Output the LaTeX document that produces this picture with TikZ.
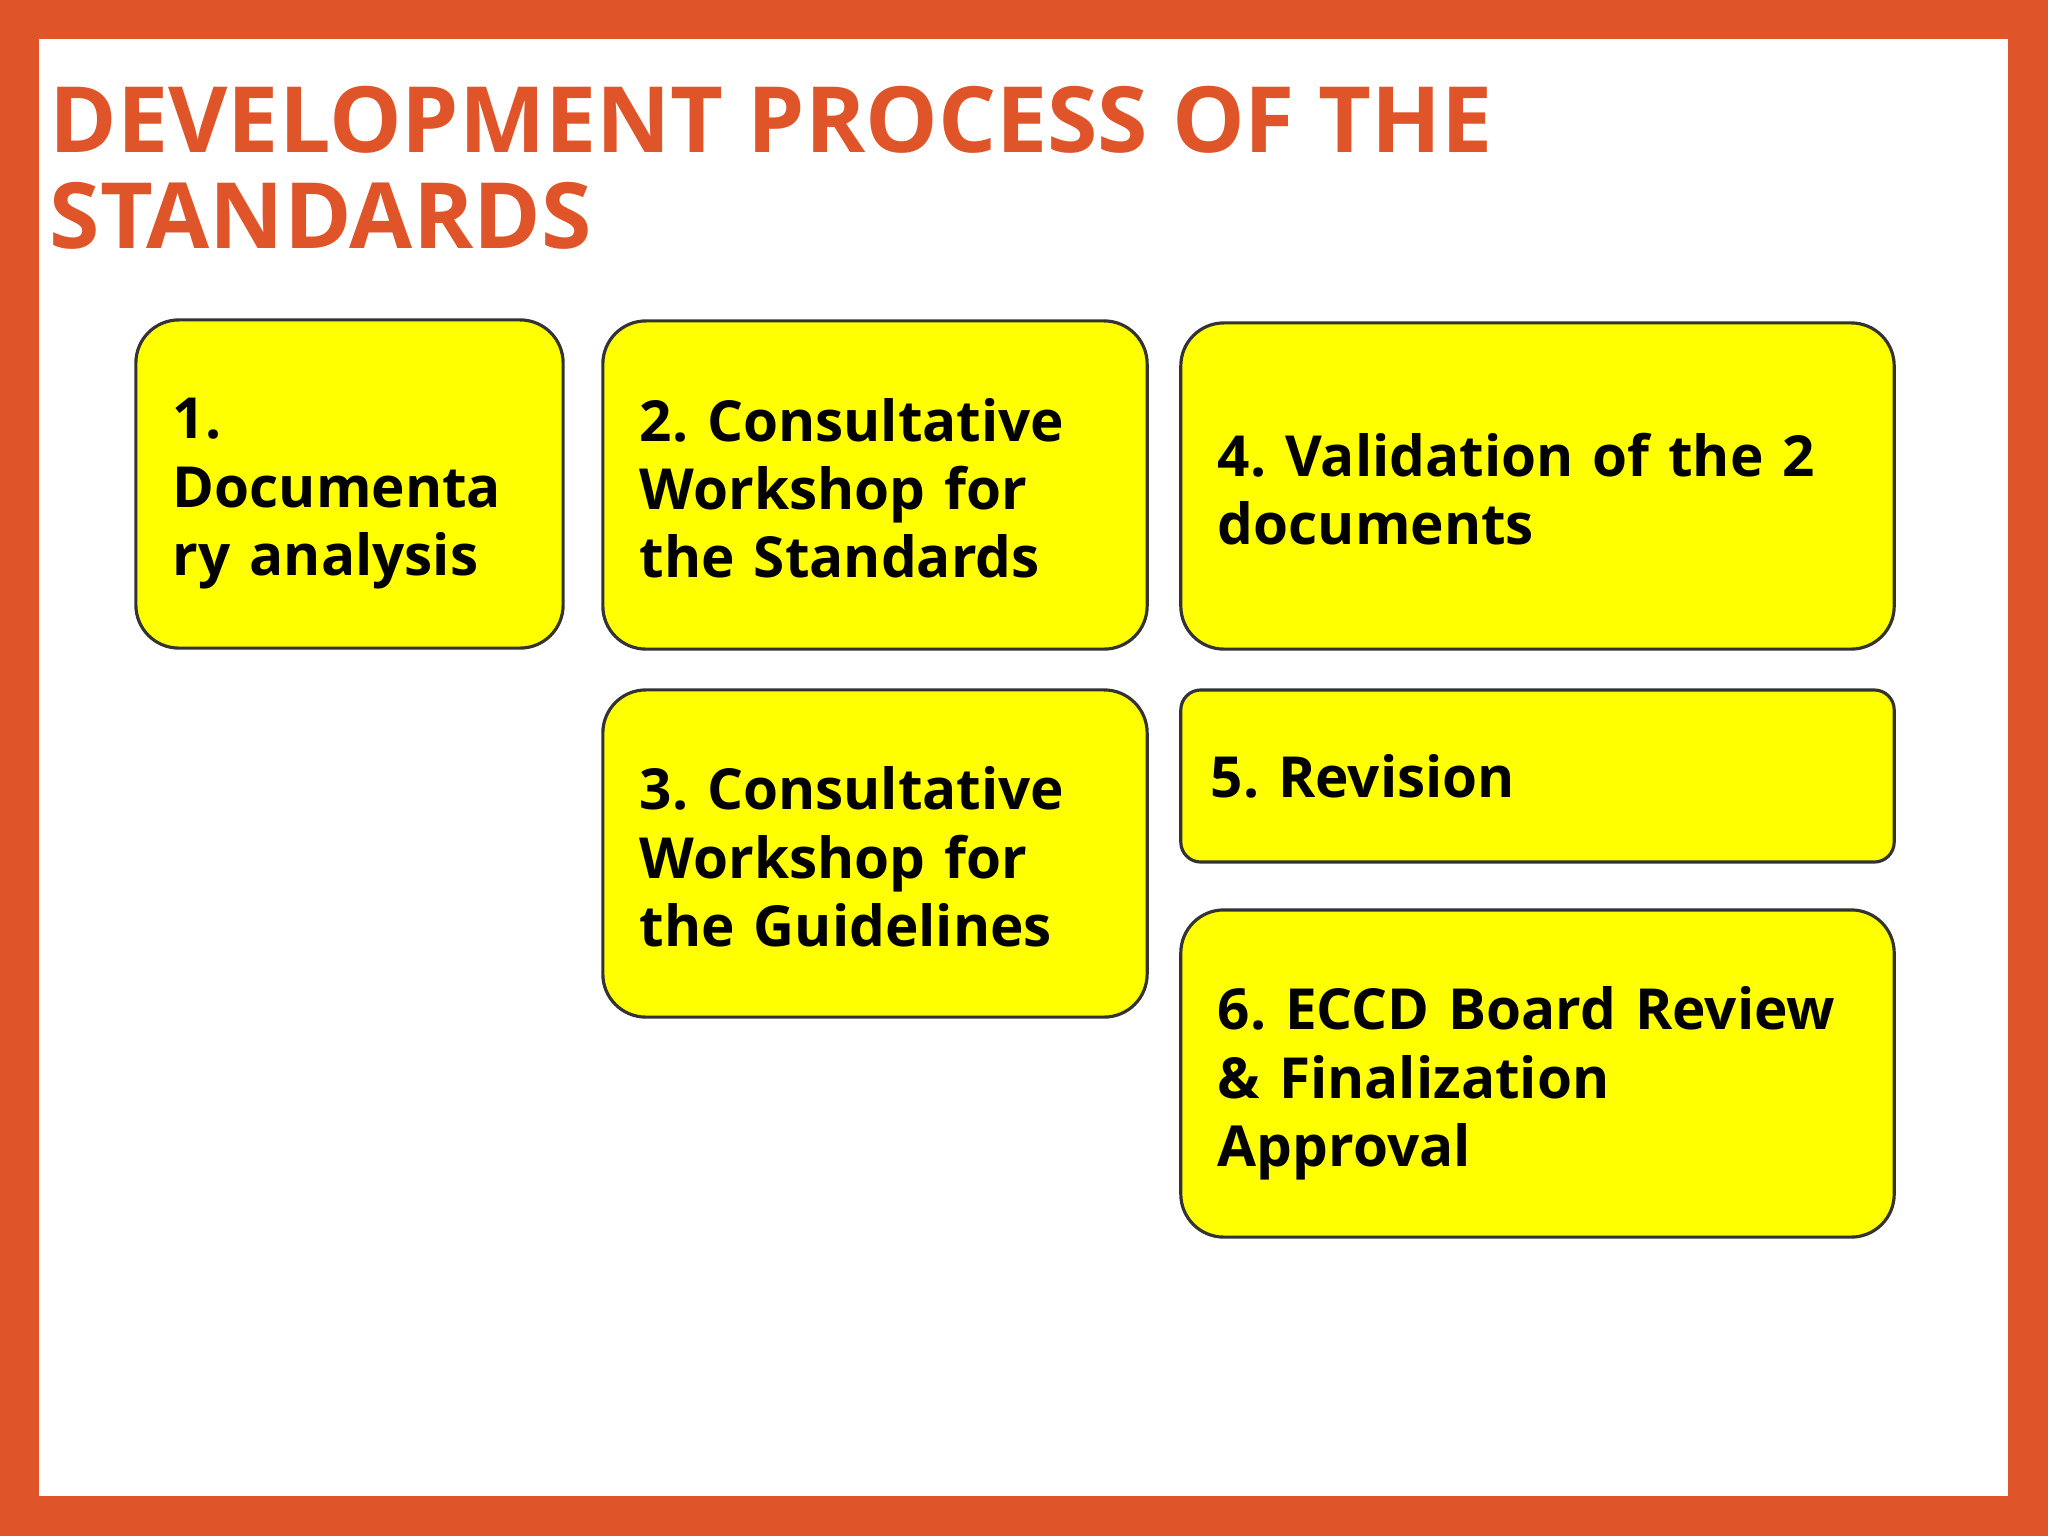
\documentclass[tikz,border=0pt]{standalone}
\usepackage{fontspec}
\setmainfont{Open Sans}
\frenchspacing
\hyphenpenalty=10000
\definecolor{frameorange}{HTML}{E0542A}
\definecolor{boxyellow}{HTML}{FFFF00}
\definecolor{boxline}{HTML}{333333}
\begin{document}
\begin{tikzpicture}[x=0.01cm, y=-0.01cm,
        stepbox/.style={draw=boxline, line width=0.9pt, fill=boxyellow, rounded corners=0.43cm,
            inner xsep=0.37cm, inner ysep=0pt, align=left, text=black,
            font=\fontsize{16.1}{19.4}\selectfont\bfseries},
        titletext/.style={anchor=base west, inner sep=0pt, align=left, text=frameorange,
            font=\fontsize{26}{27.3}\selectfont\bfseries}]
        \useasboundingbox (0, 0) rectangle (2048, 1536);
        
        % Frame
        \fill[frameorange] (0, 0) rectangle (2048, 1536);
        \fill[white] (39, 39) rectangle (2008, 1496);
        
        % Title
        \node[titletext] (title) at (49, 248) {DEVELOPMENT PROCESS OF THE\\STANDARDS};
        
        % Steps (text depth ignores descenders of the last line)
        \node[stepbox, minimum width=4.27cm, minimum height=3.28cm, text width=3.53cm, text depth=37.1pt] (docanalysis) at (349.5, 484) {1.\\Documenta\\ry analysis};
        \node[stepbox, minimum width=5.44cm, minimum height=3.28cm, text width=4.70cm, text depth=37.1pt] (wsstandards) at (875, 485) {2. Consultative\\Workshop for\\the Standards};
        \node[stepbox, minimum width=5.44cm, minimum height=3.27cm, text width=4.70cm, text depth=37.1pt] (wsguidelines) at (875, 853.5) {3. Consultative\\Workshop for\\the Guidelines};
        \node[stepbox, minimum width=7.13cm, minimum height=3.26cm, text width=6.39cm, text depth=17.7pt] (validation) at (1537.5, 486) {4. Validation of the 2\\documents};
        \node[stepbox, rounded corners=0.2cm, inner xsep=0.3cm, minimum width=7.13cm, minimum height=1.72cm, text width=6.53cm, text depth=0pt] (revision) at (1537.5, 776) {5. Revision};
        \node[stepbox, minimum width=7.13cm, minimum height=3.27cm, text width=6.39cm, text depth=37.1pt] (approval) at (1537.5, 1073.5) {6. ECCD Board Review\\\& Finalization\\Approval};
    \end{tikzpicture}
\end{document}
